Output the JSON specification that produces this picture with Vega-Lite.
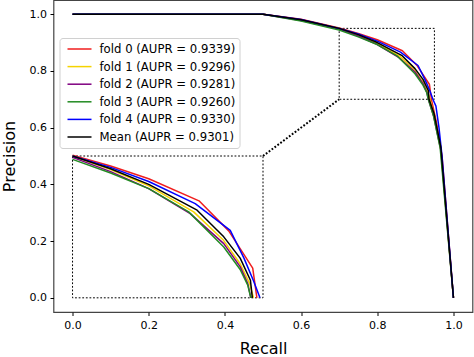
{
  "$schema": "https://vega.github.io/schema/vega-lite/v6.json",
  "width": 419,
  "height": 312,
  "autosize": {"type": "none"},
  "padding": {"left": 53.5, "top": 0, "right": 1.5, "bottom": 45},
  "background": "white",
  "config": {
    "view": {"stroke": "#444444", "strokeWidth": 1.2},
    "font": "DejaVu Sans",
    "axis": {
      "grid": false, "domain": false, "tickColor": "#000000", "tickSize": 3.5, "tickWidth": 1,
      "labelFont": "DejaVu Sans", "labelFontSize": 11, "labelColor": "#000000", "labelPadding": 3.5,
      "titleFont": "DejaVu Sans", "titleFontSize": 16, "titleFontWeight": "normal", "titleColor": "#000000"
    },
    "legend": {
      "orient": "none", "legendX": 6, "legendY": 38, "title": null,
      "symbolType": "M-2,0H2", "symbolSize": 144, "symbolOffset": 9,
      "labelFont": "DejaVu Sans", "labelFontSize": 11.7, "labelColor": "#000000", "labelOffset": 13,
      "rowPadding": 3.6, "padding": 4, "strokeColor": "#d0d0d0", "fillColor": "rgba(255,255,255,0.85)", "cornerRadius": 3,
      "labelLimit": 300
    }
  },
  "datasets": {
    "main": [
      {"series": "fold 0 (AUPR = 0.9339)", "recall": 0, "precision": 1},
      {"series": "fold 0 (AUPR = 0.9339)", "recall": 0.5, "precision": 1},
      {"series": "fold 0 (AUPR = 0.9339)", "recall": 0.6, "precision": 0.982},
      {"series": "fold 0 (AUPR = 0.9339)", "recall": 0.7, "precision": 0.951},
      {"series": "fold 0 (AUPR = 0.9339)", "recall": 0.75, "precision": 0.932},
      {"series": "fold 0 (AUPR = 0.9339)", "recall": 0.8, "precision": 0.91},
      {"series": "fold 0 (AUPR = 0.9339)", "recall": 0.866, "precision": 0.871},
      {"series": "fold 0 (AUPR = 0.9339)", "recall": 0.905, "precision": 0.818},
      {"series": "fold 0 (AUPR = 0.9339)", "recall": 0.937, "precision": 0.752},
      {"series": "fold 0 (AUPR = 0.9339)", "recall": 0.942, "precision": 0.70},
      {"series": "fold 0 (AUPR = 0.9339)", "recall": 0.955, "precision": 0.62},
      {"series": "fold 0 (AUPR = 0.9339)", "recall": 0.97, "precision": 0.5},
      {"series": "fold 0 (AUPR = 0.9339)", "recall": 1, "precision": 0},
      {"series": "fold 1 (AUPR = 0.9296)", "recall": 0, "precision": 1},
      {"series": "fold 1 (AUPR = 0.9296)", "recall": 0.5, "precision": 1},
      {"series": "fold 1 (AUPR = 0.9296)", "recall": 0.6, "precision": 0.979},
      {"series": "fold 1 (AUPR = 0.9296)", "recall": 0.7, "precision": 0.95},
      {"series": "fold 1 (AUPR = 0.9296)", "recall": 0.75, "precision": 0.926},
      {"series": "fold 1 (AUPR = 0.9296)", "recall": 0.8, "precision": 0.898},
      {"series": "fold 1 (AUPR = 0.9296)", "recall": 0.859, "precision": 0.852},
      {"series": "fold 1 (AUPR = 0.9296)", "recall": 0.898, "precision": 0.803},
      {"series": "fold 1 (AUPR = 0.9296)", "recall": 0.92, "precision": 0.76},
      {"series": "fold 1 (AUPR = 0.9296)", "recall": 0.933, "precision": 0.725},
      {"series": "fold 1 (AUPR = 0.9296)", "recall": 0.938, "precision": 0.70},
      {"series": "fold 1 (AUPR = 0.9296)", "recall": 0.95, "precision": 0.64},
      {"series": "fold 1 (AUPR = 0.9296)", "recall": 0.967, "precision": 0.52},
      {"series": "fold 1 (AUPR = 0.9296)", "recall": 1, "precision": 0},
      {"series": "fold 2 (AUPR = 0.9281)", "recall": 0, "precision": 1},
      {"series": "fold 2 (AUPR = 0.9281)", "recall": 0.5, "precision": 1},
      {"series": "fold 2 (AUPR = 0.9281)", "recall": 0.6, "precision": 0.978},
      {"series": "fold 2 (AUPR = 0.9281)", "recall": 0.7, "precision": 0.948},
      {"series": "fold 2 (AUPR = 0.9281)", "recall": 0.75, "precision": 0.923},
      {"series": "fold 2 (AUPR = 0.9281)", "recall": 0.8, "precision": 0.893},
      {"series": "fold 2 (AUPR = 0.9281)", "recall": 0.855, "precision": 0.849},
      {"series": "fold 2 (AUPR = 0.9281)", "recall": 0.899, "precision": 0.796},
      {"series": "fold 2 (AUPR = 0.9281)", "recall": 0.92, "precision": 0.755},
      {"series": "fold 2 (AUPR = 0.9281)", "recall": 0.93, "precision": 0.725},
      {"series": "fold 2 (AUPR = 0.9281)", "recall": 0.934, "precision": 0.70},
      {"series": "fold 2 (AUPR = 0.9281)", "recall": 0.948, "precision": 0.64},
      {"series": "fold 2 (AUPR = 0.9281)", "recall": 0.967, "precision": 0.52},
      {"series": "fold 2 (AUPR = 0.9281)", "recall": 1, "precision": 0},
      {"series": "fold 3 (AUPR = 0.9260)", "recall": 0, "precision": 1},
      {"series": "fold 3 (AUPR = 0.9260)", "recall": 0.5, "precision": 1},
      {"series": "fold 3 (AUPR = 0.9260)", "recall": 0.6, "precision": 0.976},
      {"series": "fold 3 (AUPR = 0.9260)", "recall": 0.7, "precision": 0.944},
      {"series": "fold 3 (AUPR = 0.9260)", "recall": 0.75, "precision": 0.92},
      {"series": "fold 3 (AUPR = 0.9260)", "recall": 0.8, "precision": 0.893},
      {"series": "fold 3 (AUPR = 0.9260)", "recall": 0.853, "precision": 0.852},
      {"series": "fold 3 (AUPR = 0.9260)", "recall": 0.899, "precision": 0.79},
      {"series": "fold 3 (AUPR = 0.9260)", "recall": 0.92, "precision": 0.75},
      {"series": "fold 3 (AUPR = 0.9260)", "recall": 0.93, "precision": 0.723},
      {"series": "fold 3 (AUPR = 0.9260)", "recall": 0.934, "precision": 0.70},
      {"series": "fold 3 (AUPR = 0.9260)", "recall": 0.948, "precision": 0.64},
      {"series": "fold 3 (AUPR = 0.9260)", "recall": 0.965, "precision": 0.53},
      {"series": "fold 3 (AUPR = 0.9260)", "recall": 1, "precision": 0},
      {"series": "fold 4 (AUPR = 0.9330)", "recall": 0, "precision": 1},
      {"series": "fold 4 (AUPR = 0.9330)", "recall": 0.5, "precision": 1},
      {"series": "fold 4 (AUPR = 0.9330)", "recall": 0.6, "precision": 0.981},
      {"series": "fold 4 (AUPR = 0.9330)", "recall": 0.7, "precision": 0.95},
      {"series": "fold 4 (AUPR = 0.9330)", "recall": 0.75, "precision": 0.93},
      {"series": "fold 4 (AUPR = 0.9330)", "recall": 0.8, "precision": 0.905},
      {"series": "fold 4 (AUPR = 0.9330)", "recall": 0.861, "precision": 0.866},
      {"series": "fold 4 (AUPR = 0.9330)", "recall": 0.907, "precision": 0.819},
      {"series": "fold 4 (AUPR = 0.9330)", "recall": 0.925, "precision": 0.77},
      {"series": "fold 4 (AUPR = 0.9330)", "recall": 0.938, "precision": 0.73},
      {"series": "fold 4 (AUPR = 0.9330)", "recall": 0.946, "precision": 0.70},
      {"series": "fold 4 (AUPR = 0.9330)", "recall": 0.954, "precision": 0.676},
      {"series": "fold 4 (AUPR = 0.9330)", "recall": 0.962, "precision": 0.6},
      {"series": "fold 4 (AUPR = 0.9330)", "recall": 0.97, "precision": 0.5},
      {"series": "fold 4 (AUPR = 0.9330)", "recall": 1, "precision": 0},
      {"series": "Mean (AUPR = 0.9301)", "recall": 0, "precision": 1},
      {"series": "Mean (AUPR = 0.9301)", "recall": 0.5, "precision": 1},
      {"series": "Mean (AUPR = 0.9301)", "recall": 0.6, "precision": 0.98},
      {"series": "Mean (AUPR = 0.9301)", "recall": 0.7, "precision": 0.95},
      {"series": "Mean (AUPR = 0.9301)", "recall": 0.75, "precision": 0.928},
      {"series": "Mean (AUPR = 0.9301)", "recall": 0.8, "precision": 0.9},
      {"series": "Mean (AUPR = 0.9301)", "recall": 0.864, "precision": 0.855},
      {"series": "Mean (AUPR = 0.9301)", "recall": 0.899, "precision": 0.808},
      {"series": "Mean (AUPR = 0.9301)", "recall": 0.92, "precision": 0.77},
      {"series": "Mean (AUPR = 0.9301)", "recall": 0.934, "precision": 0.731},
      {"series": "Mean (AUPR = 0.9301)", "recall": 0.936, "precision": 0.70},
      {"series": "Mean (AUPR = 0.9301)", "recall": 0.949, "precision": 0.65},
      {"series": "Mean (AUPR = 0.9301)", "recall": 0.967, "precision": 0.53},
      {"series": "Mean (AUPR = 0.9301)", "recall": 1, "precision": 0}
    ],
    "inset": [
      {"series": "fold 0 (AUPR = 0.9339)", "recall": 0, "precision": 0.503},
      {"series": "fold 0 (AUPR = 0.9339)", "recall": 0.1, "precision": 0.465},
      {"series": "fold 0 (AUPR = 0.9339)", "recall": 0.2, "precision": 0.42},
      {"series": "fold 0 (AUPR = 0.9339)", "recall": 0.332, "precision": 0.342},
      {"series": "fold 0 (AUPR = 0.9339)", "recall": 0.41, "precision": 0.236},
      {"series": "fold 0 (AUPR = 0.9339)", "recall": 0.473, "precision": 0.105},
      {"series": "fold 0 (AUPR = 0.9339)", "recall": 0.484, "precision": 0},
      {"series": "fold 1 (AUPR = 0.9296)", "recall": 0, "precision": 0.5},
      {"series": "fold 1 (AUPR = 0.9296)", "recall": 0.1, "precision": 0.452},
      {"series": "fold 1 (AUPR = 0.9296)", "recall": 0.2, "precision": 0.395},
      {"series": "fold 1 (AUPR = 0.9296)", "recall": 0.318, "precision": 0.303},
      {"series": "fold 1 (AUPR = 0.9296)", "recall": 0.395, "precision": 0.205},
      {"series": "fold 1 (AUPR = 0.9296)", "recall": 0.44, "precision": 0.12},
      {"series": "fold 1 (AUPR = 0.9296)", "recall": 0.465, "precision": 0.05},
      {"series": "fold 1 (AUPR = 0.9296)", "recall": 0.475, "precision": 0},
      {"series": "fold 2 (AUPR = 0.9281)", "recall": 0, "precision": 0.495},
      {"series": "fold 2 (AUPR = 0.9281)", "recall": 0.1, "precision": 0.445},
      {"series": "fold 2 (AUPR = 0.9281)", "recall": 0.2, "precision": 0.385},
      {"series": "fold 2 (AUPR = 0.9281)", "recall": 0.309, "precision": 0.297},
      {"series": "fold 2 (AUPR = 0.9281)", "recall": 0.397, "precision": 0.191},
      {"series": "fold 2 (AUPR = 0.9281)", "recall": 0.44, "precision": 0.11},
      {"series": "fold 2 (AUPR = 0.9281)", "recall": 0.46, "precision": 0.05},
      {"series": "fold 2 (AUPR = 0.9281)", "recall": 0.468, "precision": 0},
      {"series": "fold 3 (AUPR = 0.9260)", "recall": 0, "precision": 0.488},
      {"series": "fold 3 (AUPR = 0.9260)", "recall": 0.1, "precision": 0.44},
      {"series": "fold 3 (AUPR = 0.9260)", "recall": 0.2, "precision": 0.385},
      {"series": "fold 3 (AUPR = 0.9260)", "recall": 0.305, "precision": 0.303},
      {"series": "fold 3 (AUPR = 0.9260)", "recall": 0.397, "precision": 0.179},
      {"series": "fold 3 (AUPR = 0.9260)", "recall": 0.44, "precision": 0.1},
      {"series": "fold 3 (AUPR = 0.9260)", "recall": 0.46, "precision": 0.045},
      {"series": "fold 3 (AUPR = 0.9260)", "recall": 0.468, "precision": 0},
      {"series": "fold 4 (AUPR = 0.9330)", "recall": 0, "precision": 0.5},
      {"series": "fold 4 (AUPR = 0.9330)", "recall": 0.1, "precision": 0.46},
      {"series": "fold 4 (AUPR = 0.9330)", "recall": 0.2, "precision": 0.41},
      {"series": "fold 4 (AUPR = 0.9330)", "recall": 0.322, "precision": 0.332},
      {"series": "fold 4 (AUPR = 0.9330)", "recall": 0.414, "precision": 0.238},
      {"series": "fold 4 (AUPR = 0.9330)", "recall": 0.45, "precision": 0.14},
      {"series": "fold 4 (AUPR = 0.9330)", "recall": 0.475, "precision": 0.06},
      {"series": "fold 4 (AUPR = 0.9330)", "recall": 0.492, "precision": 0},
      {"series": "Mean (AUPR = 0.9301)", "recall": 0, "precision": 0.5},
      {"series": "Mean (AUPR = 0.9301)", "recall": 0.1, "precision": 0.455},
      {"series": "Mean (AUPR = 0.9301)", "recall": 0.2, "precision": 0.4},
      {"series": "Mean (AUPR = 0.9301)", "recall": 0.327, "precision": 0.309},
      {"series": "Mean (AUPR = 0.9301)", "recall": 0.397, "precision": 0.215},
      {"series": "Mean (AUPR = 0.9301)", "recall": 0.44, "precision": 0.14},
      {"series": "Mean (AUPR = 0.9301)", "recall": 0.467, "precision": 0.062},
      {"series": "Mean (AUPR = 0.9301)", "recall": 0.472, "precision": 0}
    ],
    "boxes": [
      {"recall": 0.7, "recall2": 0.95, "precision": 0.7, "precision2": 0.95},
      {"recall": 0, "recall2": 0.5, "precision": 0, "precision2": 0.5}
    ],
    "link": [
      {"recall": 0.5, "recall2": 0.7, "precision": 0.5, "precision2": 0.7}
    ]
  },
  "layer": [
    {
      "data": {"name": "boxes"},
      "mark": {"type": "rect", "fillOpacity": 0, "fill": "white", "stroke": "#000000", "strokeWidth": 2, "strokeDash": [1.8, 1.8]},
      "encoding": {
        "x": {"field": "recall", "type": "quantitative", "title": "Recall"},
        "x2": {"field": "recall2"},
        "y": {"field": "precision", "type": "quantitative", "title": "Precision"},
        "y2": {"field": "precision2"}
      }
    },
    {
      "data": {"name": "link"},
      "mark": {"type": "rule", "stroke": "#000000", "strokeWidth": 2, "strokeDash": [1.8, 1.8]},
      "encoding": {
        "x": {"field": "recall", "type": "quantitative", "title": "Recall"},
        "x2": {"field": "recall2"},
        "y": {"field": "precision", "type": "quantitative", "title": "Precision"},
        "y2": {"field": "precision2"}
      }
    },
    {
      "data": {"name": "main"},
      "mark": {"type": "line", "strokeCap": "butt", "strokeJoin": "round"},
      "encoding": {
        "x": {"field": "recall", "type": "quantitative", "title": "Recall"},
        "y": {"field": "precision", "type": "quantitative", "title": "Precision"},
        "color": {"field": "series", "type": "nominal"},
        "strokeWidth": {"field": "series", "type": "nominal"}
      }
    },
    {
      "data": {"name": "inset"},
      "mark": {"type": "line", "strokeCap": "butt", "strokeJoin": "round"},
      "encoding": {
        "x": {"field": "recall", "type": "quantitative", "title": "Recall"},
        "y": {"field": "precision", "type": "quantitative", "title": "Precision"},
        "color": {"field": "series", "type": "nominal"},
        "strokeWidth": {"field": "series", "type": "nominal"}
      }
    }
  ],
  "resolve": {"scale": {"x": "shared", "y": "shared"}},
  "encoding": {
    "x": {
      "field": "recall", "type": "quantitative", "title": "Recall",
      "scale": {"domain": [-0.05, 1.05], "nice": false, "zero": false},
      "axis": {"values": [0, 0.2, 0.4, 0.6, 0.8, 1.0], "format": ".1f", "titlePadding": 10}
    },
    "y": {
      "field": "precision", "type": "quantitative", "title": "Precision",
      "scale": {"domain": [-0.05, 1.05], "nice": false, "zero": false},
      "axis": {"values": [0, 0.2, 0.4, 0.6, 0.8, 1.0], "format": ".1f", "titlePadding": 12}
    },
    "color": {
      "field": "series", "type": "nominal",
      "scale": {
        "domain": ["fold 0 (AUPR = 0.9339)", "fold 1 (AUPR = 0.9296)", "fold 2 (AUPR = 0.9281)", "fold 3 (AUPR = 0.9260)", "fold 4 (AUPR = 0.9330)", "Mean (AUPR = 0.9301)"],
        "range": ["#f01e1e", "#f5d300", "#800080", "#228b22", "#0000ff", "#000000"]
      }
    },
    "strokeWidth": {
      "field": "series", "type": "nominal",
      "scale": {
        "domain": ["fold 0 (AUPR = 0.9339)", "fold 1 (AUPR = 0.9296)", "fold 2 (AUPR = 0.9281)", "fold 3 (AUPR = 0.9260)", "fold 4 (AUPR = 0.9330)", "Mean (AUPR = 0.9301)"],
        "range": [1.5, 1.5, 1.5, 1.5, 1.5, 2.6]
      }
    }
  }
}
